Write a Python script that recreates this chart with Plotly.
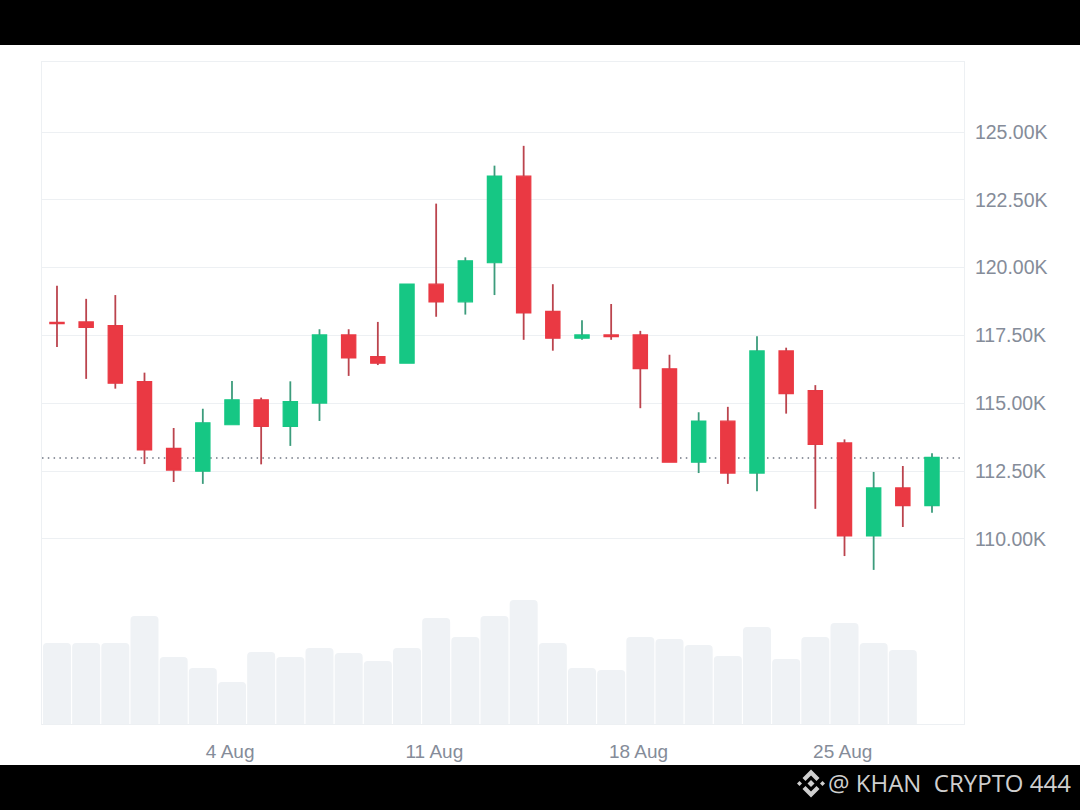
import pandas as pd
import plotly.graph_objects as go

# daily candles, prices in thousands
dates = pd.date_range('2025-07-29', periods=31)

opens = [117.98, 118.00, 117.86, 115.80, 113.34, 112.50, 114.21, 115.13, 114.15, 115.01, 117.52,
         116.72, 116.48, 119.39, 118.74, 120.18, 123.37, 118.39, 117.40, 117.52, 117.52,
         116.27, 112.83, 114.34, 112.43, 116.93, 115.47, 113.54, 110.11, 111.88, 111.23]
highs = [119.33, 118.85, 118.99, 116.13, 114.09, 114.80, 115.82, 115.21, 115.81, 117.73, 117.73,
         118.00, 119.39, 122.36, 120.38, 123.76, 124.49, 119.39, 118.06, 118.66, 117.67,
         116.79, 114.67, 114.87, 117.47, 117.05, 115.67, 113.67, 112.47, 112.69, 113.16]
lows = [117.08, 115.90, 115.54, 112.76, 112.10, 112.03, 114.21, 112.75, 113.43, 114.35, 116.01,
        116.41, 116.48, 118.19, 118.27, 118.99, 117.34, 116.94, 117.34, 117.34, 114.82,
        112.83, 112.43, 112.03, 111.76, 114.62, 111.11, 109.37, 108.86, 110.44, 110.97]
closes = [117.94, 117.80, 115.74, 113.28, 112.54, 114.28, 115.13, 114.15, 115.06, 117.52, 116.67,
          116.48, 119.39, 118.74, 120.25, 123.37, 118.33, 117.40, 117.52, 117.46, 116.28,
          112.83, 114.34, 112.43, 116.93, 115.36, 113.49, 110.11, 111.88, 111.23, 113.01]

# volume has no scale in the picture, so arbitrary units
volumes = [81, 81, 81, 108, 67, 56, 42, 72, 67, 76, 71, 63, 76, 106, 87,
           108, 124, 81, 56, 54, 87, 85, 79, 68, 97, 65, 87, 101, 81, 74, 0]

price_ticks = [110, 112.5, 115, 117.5, 120, 122.5, 125]
price_labels = ['110.00K', '112.50K', '115.00K', '117.50K', '120.00K', '122.50K', '125.00K']
# labels sit a touch left of their candle in the original
date_ticks = ['2025-08-03 22:30', '2025-08-10 22:30', '2025-08-17 22:30', '2025-08-24 22:30']
date_labels = ['4 Aug', '11 Aug', '18 Aug', '25 Aug']
last_price = 112.98

RED = '#ea3943'
GREEN = '#16c784'
RED_WICK = '#bb444e'
GREEN_WICK = '#3c9c7c'
GREY = '#858c99'
GRID = '#edf0f3'
LOGO = '#cfcfcf'
W, H = 1080, 810


def px(x, y):
    # page pixels to paper coordinates
    return f'{x / W:.5f},{1 - y / H:.5f}'


def poly(points):
    return 'M' + ' L'.join(px(x, y) for x, y in points) + ' Z'


def wick_trace(rising, color):
    # scatter lines draw above candlesticks, so stop each wick at the body
    xs, ys = [], []
    for d, o, h, l, c in zip(dates, opens, highs, lows, closes):
        if (c > o) == rising:
            xs += [d, d, None, d, d, None]
            ys += [l, min(o, c), None, max(o, c), h, None]
    return go.Scatter(x=xs, y=ys, mode='lines', yaxis='y2', showlegend=False,
                      line=dict(color=color, width=1.8))


fig = go.Figure()

fig.add_trace(go.Bar(x=dates, y=volumes, marker=dict(color='#eff2f5', line_width=0),
                     yaxis='y', showlegend=False))

fig.add_trace(wick_trace(True, GREEN_WICK))
fig.add_trace(wick_trace(False, RED_WICK))

# bodies only, high/low are the body ends
body_tops = [max(o, c) for o, c in zip(opens, closes)]
body_bottoms = [min(o, c) for o, c in zip(opens, closes)]
fig.add_trace(go.Candlestick(
    x=dates, open=opens, high=body_tops, low=body_bottoms, close=closes, yaxis='y2',
    whiskerwidth=0, showlegend=False,
    increasing=dict(line=dict(color=GREEN, width=1.2), fillcolor=GREEN),
    decreasing=dict(line=dict(color=RED, width=1.2), fillcolor=RED),
))

# black bands and the small logo of the screenshot
shapes = [
    dict(type='line', xref='x domain', yref='y2', x0=0, x1=1, y0=last_price, y1=last_price,
         layer='below', line=dict(color='#6f7682', width=1.5, dash='1.5px,4.3px')),
    dict(type='rect', xref='paper', yref='paper', x0=0, x1=1, y0=1 - 45 / H, y1=1,
         fillcolor='black', line_width=0),
    dict(type='rect', xref='paper', yref='paper', x0=0, x1=1, y0=0, y1=1 - 765 / H,
         fillcolor='black', line_width=0),
]
cx, cy = 811, 783.5
logo = [
    poly([(cx - 3.5, cy), (cx, cy - 3.5), (cx + 3.5, cy), (cx, cy + 3.5)]),
    poly([(cx - 14, cy), (cx - 11.5, cy - 2.5), (cx - 9, cy), (cx - 11.5, cy + 2.5)]),
    poly([(cx + 14, cy), (cx + 11.5, cy - 2.5), (cx + 9, cy), (cx + 11.5, cy + 2.5)]),
    poly([(cx - 8.5, cy - 5.5), (cx, cy - 14), (cx + 8.5, cy - 5.5), (cx + 5.5, cy - 2.5),
          (cx, cy - 8), (cx - 5.5, cy - 2.5)]),
    poly([(cx - 8.5, cy + 5.5), (cx, cy + 14), (cx + 8.5, cy + 5.5), (cx + 5.5, cy + 2.5),
          (cx, cy + 8), (cx - 5.5, cy + 2.5)]),
]
for p in logo:
    shapes.append(dict(type='path', xref='paper', yref='paper', path=p,
                       fillcolor=LOGO, line_width=0))

fig.update_layout(
    width=W, height=H, autosize=False,
    margin=dict(l=0, r=0, t=0, b=0),
    paper_bgcolor='white', plot_bgcolor='white',
    showlegend=False, bargap=0.04, barcornerradius=4,
    shapes=shapes,
    xaxis=dict(
        domain=[42 / W, 964 / W], type='date',
        range=['2025-07-28 11:40', '2025-08-29 02:20'],
        rangeslider=dict(visible=False),
        tickvals=date_ticks, ticktext=date_labels,
        tickfont=dict(family='Liberation Sans', size=19, color=GREY),
        ticks='outside', ticklen=10, tickcolor='white',
        showgrid=False, showline=True, linecolor=GRID, linewidth=1.2, mirror=True, zeroline=False,
    ),
    yaxis=dict(
        domain=[1 - 724 / H, 1 - 62 / H], range=[0, 662],
        showticklabels=False, showgrid=False, zeroline=False, ticks='',
        showline=True, linecolor=GRID, linewidth=1.2, mirror=True,
    ),
    yaxis2=dict(
        overlaying='y', side='right', range=[103.18, 127.58],
        tickvals=price_ticks, ticktext=price_labels,
        tickfont=dict(family='Liberation Sans', size=19.5, color=GREY),
        ticks='outside', ticklen=6, tickcolor='white',
        showgrid=True, gridcolor=GRID, gridwidth=1.4, zeroline=False, showline=False,
    ),
    annotations=[dict(
        text='@ KHAN  CRYPTO 444', xref='paper', yref='paper',
        x=1073 / W, y=1 - 782.5 / H, xanchor='right', yanchor='middle', showarrow=False,
        font=dict(family='Open Sans', size=24, color=LOGO),
    )],
)

fig.write_html("out.html", config={'displayModeBar': False},
               post_script="document.body.style.margin='0';")
